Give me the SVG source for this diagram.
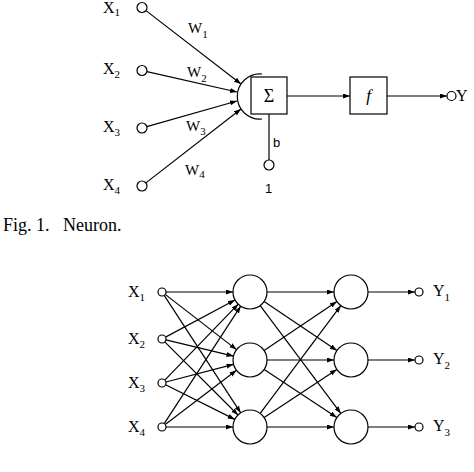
<svg xmlns="http://www.w3.org/2000/svg" width="474" height="472" viewBox="0 0 474 472">
<style>
.ln{stroke:#000;stroke-width:1.2;fill:none}
.ar{stroke:#000;stroke-width:1.2;fill:none;marker-end:url(#ah)}
.nd{stroke:#000;stroke-width:1.2;fill:#fff}
.t{font-family:"Liberation Serif","Times New Roman",serif;fill:#000}
.s{font-family:"Liberation Sans",Arial,sans-serif;fill:#000}
</style>
<defs>
<marker id="ah" markerUnits="userSpaceOnUse" markerWidth="8" markerHeight="6" refX="7" refY="2.5" orient="auto">
<path d="M0,0 L7,2.5 L0,5 z" fill="#000"/>
</marker>
</defs>
<rect width="474" height="472" fill="#fff"/>

<g id="connectors">
<!-- Fig 1 -->
<line class="ar" x1="146" y1="10.6" x2="241" y2="84"/>
<line class="ar" x1="146.9" y1="71.6" x2="237" y2="92"/>
<line class="ar" x1="146.8" y1="126.6" x2="237" y2="101"/>
<line class="ar" x1="145.9" y1="182.9" x2="241" y2="109"/>
<path class="ln" d="M262,74 A22.6,22.6 0 1 0 262,119"/>
<line class="ar" x1="287" y1="96" x2="350" y2="96"/>
<line class="ar" x1="387" y1="96" x2="447" y2="96"/>
<line class="ln" x1="269" y1="114" x2="269" y2="160"/>
<!-- Fig 2 input to hidden -->
<line class="ar" x1="166" y1="292" x2="233" y2="292"/>
<line class="ar" x1="165.2" y1="294.4" x2="236.5" y2="349.6"/>
<line class="ar" x1="164.2" y1="295.4" x2="240.7" y2="412.8"/>
<line class="ar" x1="165.5" y1="337.1" x2="235" y2="300"/>
<line class="ar" x1="165.9" y1="339.9" x2="233.5" y2="356.1"/>
<line class="ar" x1="164.8" y1="341.8" x2="238" y2="415"/>
<line class="ar" x1="164.8" y1="380.1" x2="238.2" y2="304.2"/>
<line class="ar" x1="165.9" y1="382" x2="233.5" y2="364.3"/>
<line class="ar" x1="165.6" y1="384.8" x2="234.8" y2="419.4"/>
<line class="ar" x1="164.2" y1="423.6" x2="240.7" y2="306.2"/>
<line class="ar" x1="165.2" y1="424.6" x2="236.5" y2="370.3"/>
<line class="ar" x1="166" y1="427" x2="233" y2="427"/>
<!-- hidden to output -->
<line class="ar" x1="267" y1="292" x2="334" y2="292"/>
<line class="ar" x1="264.1" y1="301.5" x2="336.9" y2="350.5"/>
<line class="ar" x1="260.2" y1="305.6" x2="340.8" y2="413.4"/>
<line class="ar" x1="264.1" y1="350.5" x2="336.9" y2="301.5"/>
<line class="ar" x1="267" y1="360" x2="334" y2="360"/>
<line class="ar" x1="264.2" y1="369.4" x2="336.8" y2="417.6"/>
<line class="ar" x1="260.2" y1="413.4" x2="340.8" y2="305.6"/>
<line class="ar" x1="264.2" y1="417.6" x2="336.8" y2="369.4"/>
<line class="ar" x1="267" y1="427" x2="334" y2="427"/>
<!-- output to Y -->
<line class="ar" x1="368" y1="292" x2="415" y2="292"/>
<line class="ar" x1="368" y1="360" x2="415" y2="360"/>
<line class="ar" x1="368" y1="427" x2="415" y2="427"/>
</g>

<!-- Fig 1 nodes -->
<g id="x1"><circle class="nd" cx="142" cy="7.5" r="5"/><text class="t" x="103" y="13" font-size="16">X<tspan font-size="11" dy="3">1</tspan></text></g>
<g id="x2"><circle class="nd" cx="142" cy="70.5" r="5"/><text class="t" x="103" y="74" font-size="16">X<tspan font-size="11" dy="4">2</tspan></text></g>
<g id="x3"><circle class="nd" cx="142" cy="128" r="5"/><text class="t" x="103" y="132" font-size="16">X<tspan font-size="11" dy="4">3</tspan></text></g>
<g id="x4"><circle class="nd" cx="142" cy="186" r="5"/><text class="t" x="103" y="190" font-size="16">X<tspan font-size="11" dy="4">4</tspan></text></g>
<g id="weights">
<text class="t" x="188" y="33" font-size="15">W<tspan font-size="11" dy="5">1</tspan></text>
<text class="t" x="187" y="77" font-size="15">W<tspan font-size="11" dy="5">2</tspan></text>
<text class="t" x="186" y="131" font-size="15">W<tspan font-size="11" dy="4">3</tspan></text>
<text class="t" x="185" y="175" font-size="15">W<tspan font-size="11" dy="3">4</tspan></text>
</g>
<g id="sum"><rect class="nd" x="251" y="77" width="36" height="37"/><text class="t" x="269" y="102" font-size="18" text-anchor="middle">Σ</text></g>
<g id="f"><rect class="nd" x="350" y="77" width="37" height="37"/><text class="t" x="368.5" y="101" font-size="17" font-style="italic" text-anchor="middle">f</text></g>
<g id="y"><circle class="nd" cx="451.5" cy="96" r="4.5"/><text class="t" x="456" y="101" font-size="16">Y</text></g>
<g id="bias"><circle class="nd" cx="269" cy="165" r="5"/><text class="s" x="273" y="147" font-size="13">b</text><text class="s" x="265" y="193" font-size="13">1</text></g>
<text class="t" x="3" y="231" font-size="18" xml:space="preserve">Fig. 1.   Neuron.</text>

<!-- Fig 2 nodes -->
<g id="in1"><circle class="nd" cx="162" cy="292" r="4"/><text class="t" x="128" y="297" font-size="16">X<tspan font-size="11" dy="4">1</tspan></text></g>
<g id="in2"><circle class="nd" cx="162" cy="339" r="4"/><text class="t" x="128" y="344" font-size="16">X<tspan font-size="11" dy="4">2</tspan></text></g>
<g id="in3"><circle class="nd" cx="162" cy="383" r="4"/><text class="t" x="128" y="388" font-size="16">X<tspan font-size="11" dy="4">3</tspan></text></g>
<g id="in4"><circle class="nd" cx="162" cy="427" r="4"/><text class="t" x="128" y="432" font-size="16">X<tspan font-size="11" dy="4">4</tspan></text></g>
<g id="h1"><circle class="nd" cx="250" cy="292" r="17"/></g>
<g id="h2"><circle class="nd" cx="250" cy="360" r="17"/></g>
<g id="h3"><circle class="nd" cx="250" cy="427" r="17"/></g>
<g id="o1"><circle class="nd" cx="351" cy="292" r="17"/></g>
<g id="o2"><circle class="nd" cx="351" cy="360" r="17"/></g>
<g id="o3"><circle class="nd" cx="351" cy="427" r="17"/></g>
<g id="y1"><circle class="nd" cx="419" cy="292" r="4"/><text class="t" x="433" y="296" font-size="16">Y<tspan font-size="11" dy="5">1</tspan></text></g>
<g id="y2"><circle class="nd" cx="419" cy="360" r="4"/><text class="t" x="433" y="364" font-size="16">Y<tspan font-size="11" dy="5">2</tspan></text></g>
<g id="y3"><circle class="nd" cx="419" cy="427" r="4"/><text class="t" x="433" y="431" font-size="16">Y<tspan font-size="11" dy="5">3</tspan></text></g>
</svg>
